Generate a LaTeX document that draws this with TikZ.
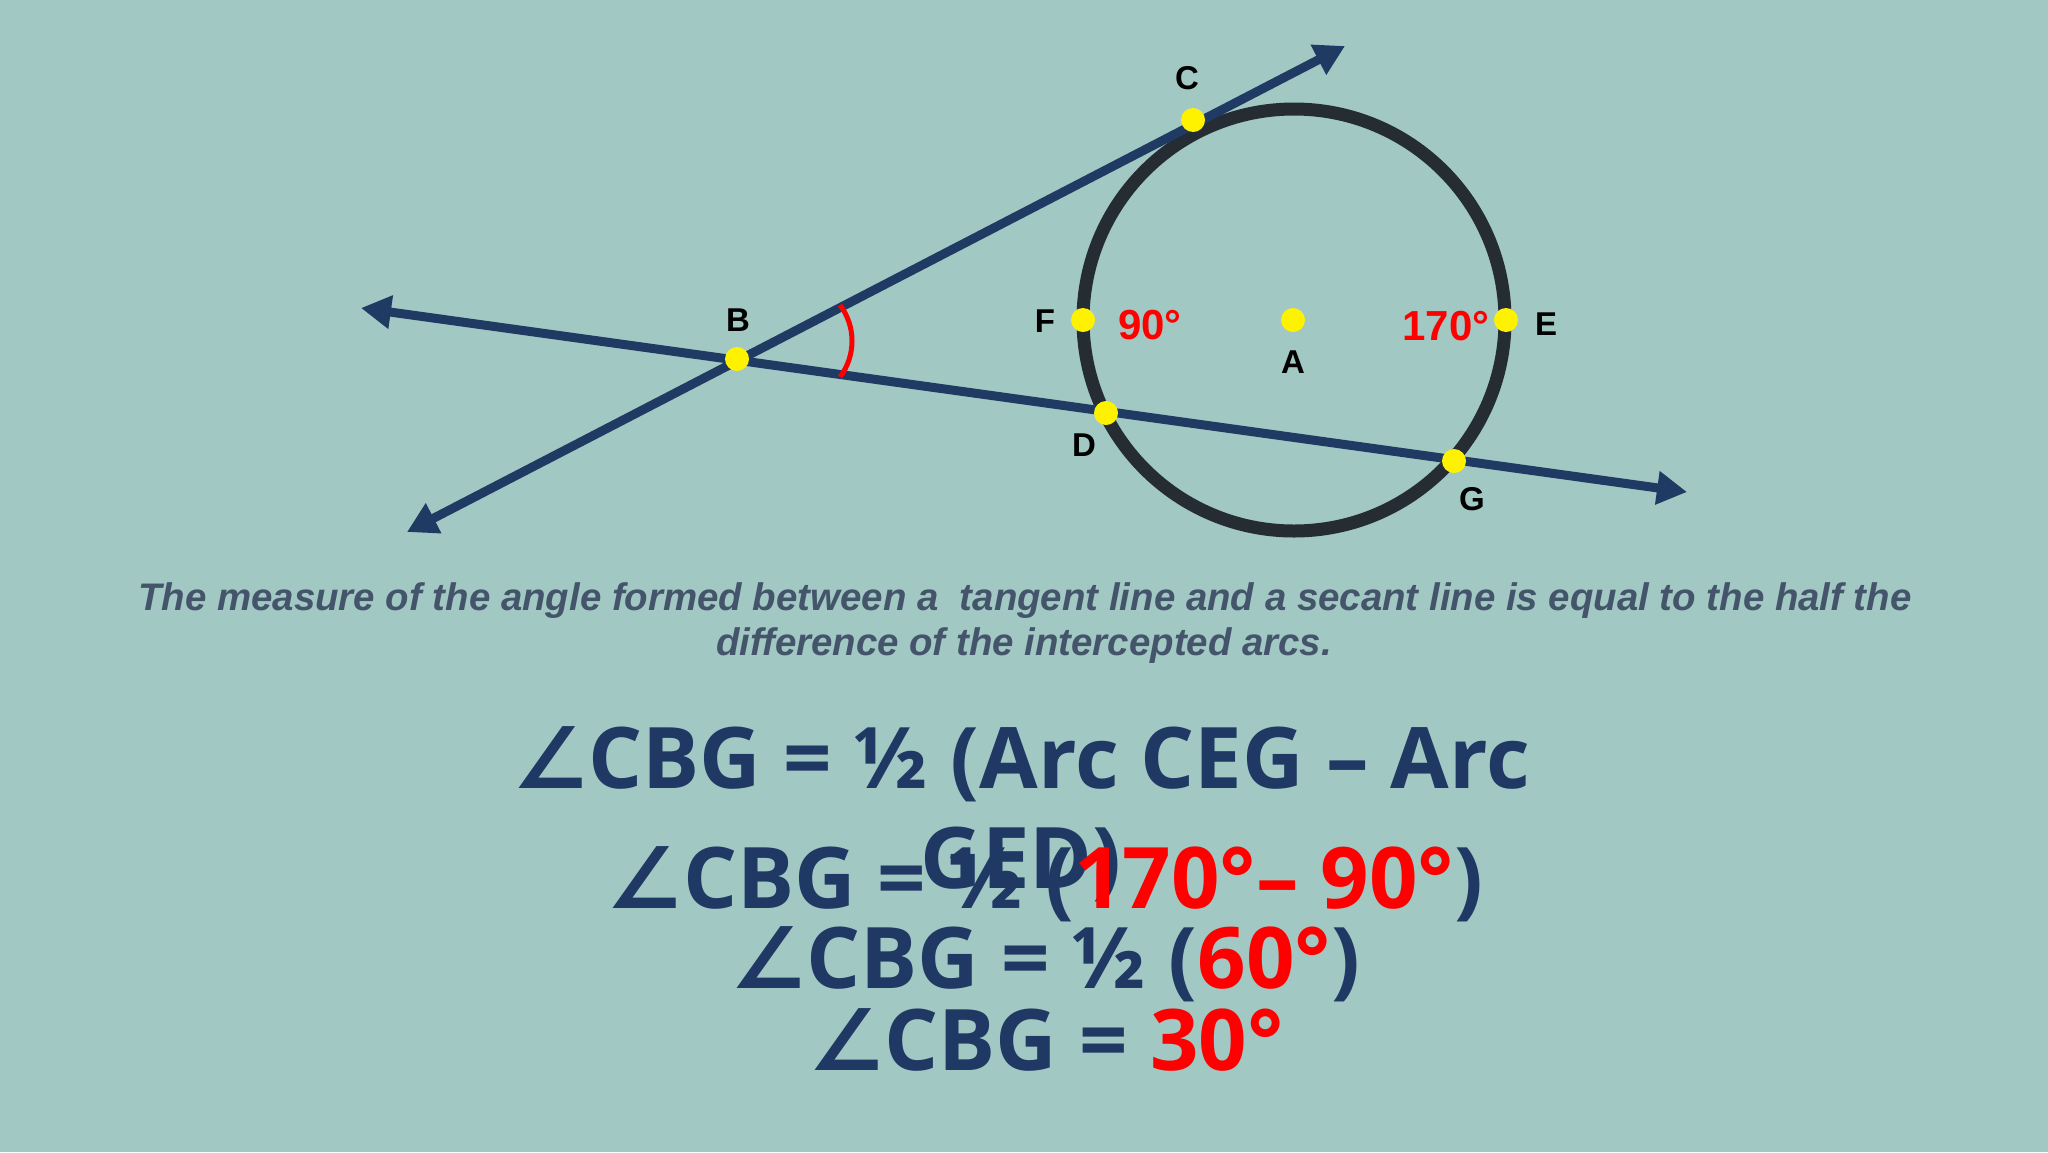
\documentclass[tikz,border=0pt]{standalone}
\usepackage{fontspec}
\setmainfont{Liberation Sans}
\newfontfamily\eqfont{Open Sans}
\newfontfamily\angfont{DejaVu Sans}
\usetikzlibrary{arrows.meta}
\definecolor{bgc}{HTML}{A2C8C3}
\definecolor{navy}{HTML}{1F3864}
\definecolor{linec}{HTML}{1F3A63}
\definecolor{circc}{HTML}{252C33}
\definecolor{capc}{HTML}{44546A}
\definecolor{redc}{HTML}{FF0000}
\newcommand\myang{{\angfont\bfseries ∠}}
\begin{document}
\begin{tikzpicture}[x=0.5pt,y=-0.5pt,
  ray/.style={draw=linec, line width=4.5pt, {Triangle[length=15pt,width=16pt]}-{Triangle[length=15pt,width=16pt]}},
  dot/.style={circle, fill=yellow, minimum size=12pt, inner sep=0pt},
  lbl/.style={font=\bfseries\fontsize{16.5}{18}\selectfont, text=black, inner sep=0pt},
  deg/.style={font=\bfseries\fontsize{21}{24}\selectfont, text=redc, inner sep=0pt},
  captxt/.style={font=\bfseries\itshape\fontsize{19.2}{22}\selectfont, text=capc, inner sep=0pt, anchor=base},
  eqtxt/.style={font=\eqfont\bfseries\fontsize{42.5}{46}\selectfont, text=navy, inner sep=0pt, anchor=base}]
\fill[bgc] (0,0) rectangle (2048,1152);
\useasboundingbox (0,0) rectangle (2048,1152);

% circle
\coordinate (A) at (1294,320);
\draw[circc, line width=6.5pt] (A) circle[radius=211];

% rays
\coordinate (T1) at (1345,46);
\coordinate (T2) at (407,532);
\coordinate (S1) at (361,308);
\coordinate (S2) at (1687,492);
\draw[ray] (T2) -- (T1);
\draw[ray] (S1) -- (S2);

% angle mark
\coordinate (arcTop) at (840,305);
\draw[redc, line width=2.5pt] (arcTop) arc[start angle=-36.87, end angle=36.87, radius=60];

% dots
\node[dot] (C) at (1193,120) {};
\node[dot] (B) at (737,359) {};
\node[dot] (F) at (1083,320) {};
\node[dot] (Ad) at (1293,320) {};
\node[dot] (E) at (1506,320) {};
\node[dot] (D) at (1106,413) {};
\node[dot] (G) at (1454,461) {};

% labels
\node[lbl] (lC) at (1187,78) {C};
\node[lbl] (lB) at (738,320) {B};
\node[lbl] (lF) at (1045,321) {F};
\node[lbl] (lE) at (1546,324) {E};
\node[lbl] (lA) at (1293,362) {A};
\node[lbl] (lD) at (1084,445) {D};
\node[lbl] (lG) at (1472,499) {G};
\node[deg] (d90) at (1150,325) {90°};
\node[deg] (d170) at (1446,326) {170°};

% caption
\node[captxt] (cap1) at (1025,610) {The measure of the angle formed between a\ \ tangent line and a secant line is equal to the half the};
\node[captxt] (cap2) at (1024,655) {difference of the intercepted arcs.};

% equations
\node[eqtxt] (eq1) at (1021,788) {\myang CBG = ½ (Arc CEG – Arc};
\node[eqtxt] (eq2) at (1021,888) {GED)};
\node[eqtxt] (eq3) at (1045,908) {\myang CBG = ½ (\textcolor{redc}{170°– 90°})};
\node[eqtxt] (eq4) at (1045,988) {\myang CBG = ½ (\textcolor{redc}{60°})};
\node[eqtxt] (eq5) at (1046,1070) {\myang CBG = \textcolor{redc}{30°}};
\end{tikzpicture}
\end{document}
